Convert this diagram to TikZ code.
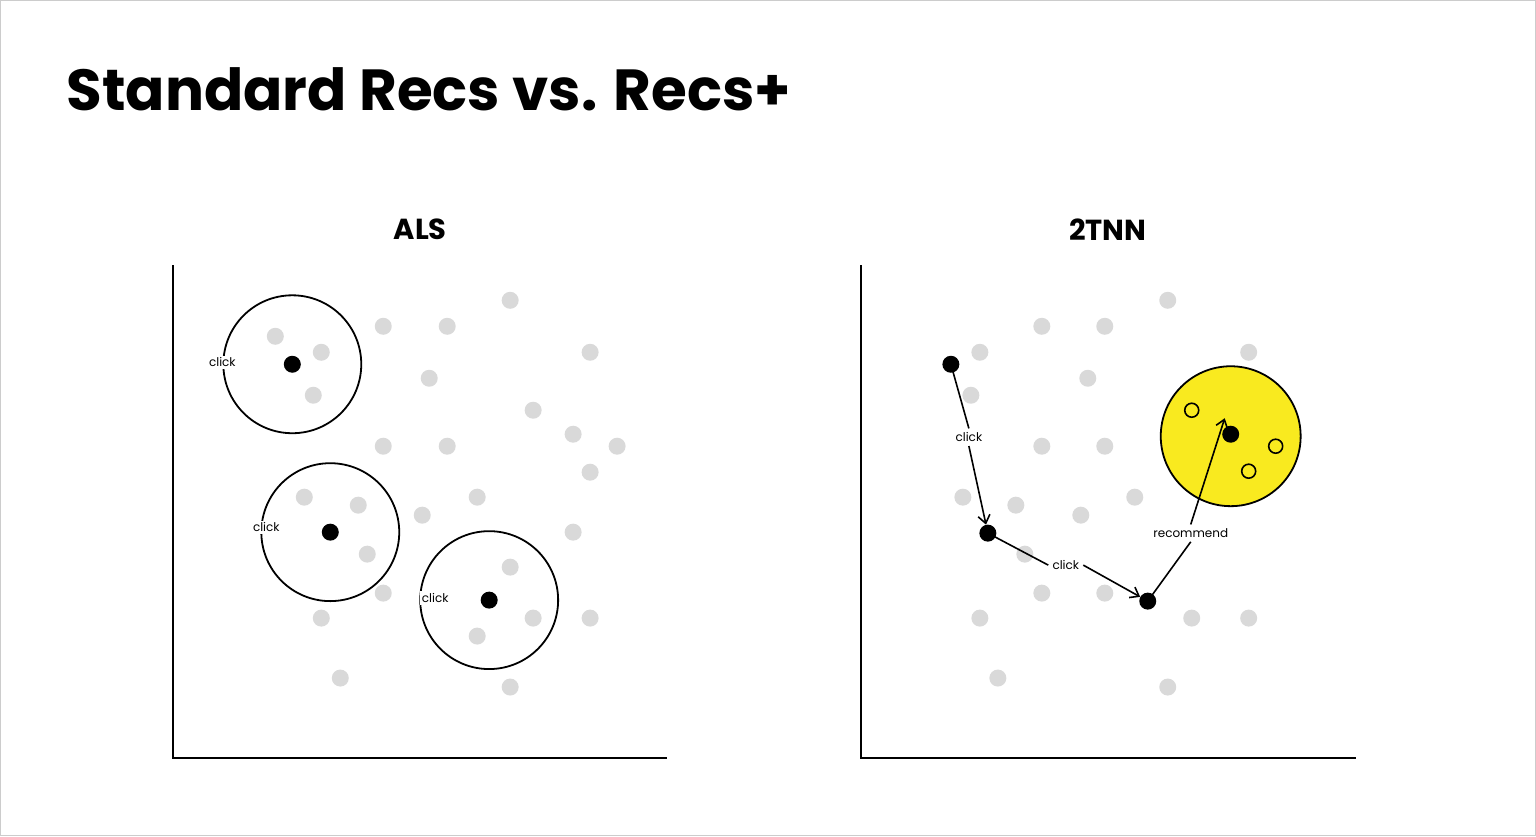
\documentclass[tikz,border=0pt]{standalone}
\usepackage{fontspec}
\setmainfont{Poppins}
\usetikzlibrary{arrows.meta}
\definecolor{dotgray}{HTML}{D9D9D9}
\definecolor{yel}{HTML}{F9EA1F}
\tikzset{
  gd/.style={circle,fill=dotgray,minimum size=17pt,inner sep=0pt},
  bd/.style={circle,fill=black,minimum size=17pt,inner sep=0pt},
  hd/.style={circle,draw=black,line width=1.6pt,minimum size=14pt,inner sep=0pt},
  ring/.style={draw=black,line width=1.8pt},
  lbl/.style={font=\fontsize{12}{14}\selectfont,fill=white,inner sep=2pt},
  axis/.style={line width=1.8pt},
  conn/.style={line width=1.6pt,-{Straight Barb[length=8pt,width=12pt]}},
}
\begin{document}
\begin{tikzpicture}[x=1pt,y=-1pt]
\draw[gray!40,line width=1pt,fill=white] (0,0) rectangle (1536,836);
\useasboundingbox (0,0) rectangle (1536,836);
\node[anchor=base west,inner sep=0pt,font=\fontsize{58}{60}\selectfont\bfseries] (title) at (66,110) {Standard Recs vs. Recs+};
\node[font=\fontsize{29}{32}\selectfont\bfseries] (als) at (420,229) {ALS};
\node[font=\fontsize{29}{32}\selectfont\bfseries] (tnn) at (1108,229) {2TNN};
% axes
\draw[axis] (173,265) -- (173,758) -- (667,758);
\draw[axis] (861,265) -- (861,758) -- (1356,758);
% left gray dots
\foreach \p [count=\i] in {(275,336),(321,352),(313,395),(383,326),(447,326),(510,300),(590,352),(429,378),(533,410),(573,434),(617,446),(590,472),(383,446),(447,446),(304,497),(358,505),(367,554),(422,515),(477,497),(573,532),(510,567),(383,593),(321,618),(533,618),(590,618),(477,636),(340,678),(510,687)}
  \node[gd] (l\i) at \p {};
% left circles
\draw[ring] (292,364) circle (69);
\draw[ring] (330,532) circle (69);
\draw[ring] (489,600) circle (69);
\node[lbl] (c1) at (222,362) {click};
\node[lbl] (c2) at (266,527) {click};
\node[lbl] (c3) at (435,598) {click};
\node[bd] (a1) at (292,364) {};
\node[bd] (a2) at (330,532) {};
\node[bd] (a3) at (489,600) {};
% right gray dots
\foreach \p [count=\i] in {(1168,300),(1042,326),(1105,326),(980,352),(1249,352),(1088,378),(971,395),(1042,446),(1105,446),(963,497),(1016,505),(1135,497),(1081,515),(1025,554),(1042,593),(1105,593),(980,618),(1192,618),(1249,618),(998,678),(1168,687)}
  \node[gd] (r\i) at \p {};
% yellow circle
\draw[ring,fill=yel] (1231,436) circle (70);
\node[hd] (h1) at (1192,410) {};
\node[hd] (h2) at (1276,446) {};
\node[hd] (h3) at (1249,471) {};
\node[bd] (b4) at (1231,434) {};
\node[bd] (b1) at (951,364) {};
\node[bd] (b2) at (988,533) {};
\node[bd] (b3) at (1148,601) {};
% connectors
\node[font=\fontsize{12}{14}\selectfont,inner sep=4pt] (k1) at (969,437) {click};
\node[font=\fontsize{12}{14}\selectfont,inner sep=4pt] (k2) at (1066,565) {click};
\node[font=\fontsize{12}{14}\selectfont,inner sep=4pt] (k3) at (1191,533) {recommend};
\draw[line width=1.6pt] (b1.center) -- (k1.north);
\draw[conn] (k1.south) -- (b2);
\draw[line width=1.6pt] (b2.center) -- (k2.west);
\draw[conn] (k2.east) -- (b3);
\draw[line width=1.6pt] (b3.center) -- (k3.south);
\draw[conn] (k3.north) -- ([shift={(-6pt,16pt)}]b4.center);
\end{tikzpicture}
\end{document}
